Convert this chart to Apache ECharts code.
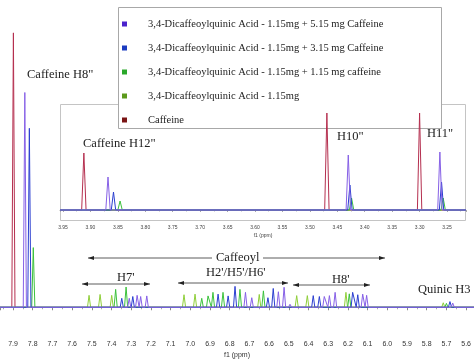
<!DOCTYPE html>
<html>
<head>
<meta charset="utf-8">
<script src="https://cdn.jsdelivr.net/npm/echarts@6/dist/echarts.min.js"></script>
<style>html,body{margin:0;padding:0;background:#fff;}#c{width:474px;height:364px;}</style>
</head>
<body>
<div id="c"></div>
<script>
// ---- Data (ppm, relative intensity) ----
const seriesNames = [
  '3,4-Dicaffeoylquinic Acid - 1.15mg + 5.15 mg Caffeine',
  '3,4-Dicaffeoylquinic Acid - 1.15mg + 3.15 mg Caffeine',
  '3,4-Dicaffeoylquinic Acid - 1.15mg + 1.15 mg caffeine',
  '3,4-Dicaffeoylquinic Acid - 1.15mg',
  'Caffeine'
];
// main spectrum (aromatic region) peaks [ppm, height]
const mainPeaks515 = [[7.840, 72], [7.310, 3], [7.270, 4], [7.252, 3.6], [7.221, 3.8], [6.720, 5], [6.688, 3.2], [6.553, 5.2], [6.524, 6.7], [6.494, 1], [6.320, 3.6], [6.294, 3.9], [6.265, 5], [6.125, 4.4], [6.105, 4], [5.668, 1.4]];
const mainPeaks315 = [[7.817, 60], [7.348, 3], [7.292, 3.6], [6.859, 4.4], [6.808, 3.8], [6.773, 7], [6.606, 3.2], [6.579, 6.3], [6.376, 3.9], [6.345, 3.6], [6.176, 5], [6.150, 4.2], [5.682, 1.9]];
const mainPeaks115 = [[7.797, 20], [7.379, 6], [7.326, 6.8], [6.942, 3], [6.910, 3.8], [6.885, 5], [6.834, 5], [6.748, 6], [6.629, 5.5], [6.193, 4.5], [5.700, 1.3]];
const mainPeaksAcid = [[7.514, 4], [7.458, 4.3], [7.399, 4], [7.032, 4.2], [6.976, 4.4], [6.650, 4.3], [6.460, 3.9], [6.406, 3.9], [6.210, 5], [5.716, 1.5]];
const mainPeaksCaff = [[7.898, 92]];
// inset (aliphatic region) peaks [ppm, height]
const insetPeaks515 = [[3.868, 33], [3.430, 55], [3.263, 58]];
const insetPeaks315 = [[3.858, 18], [3.427, 25], [3.260, 28]];
const insetPeaks115 = [[3.846, 9], [3.424, 12], [3.257, 12]];
const insetPeaksAcid = [];
const insetPeaksCaff = [[3.912, 57], [3.469, 97], [3.300, 97]];

// ---- styles ----
const lineColors = ['#8660e6', '#2b3fd0', '#3cc23c', '#8fce3a', '#b52f4f'];
const legendColors = ['#4a22cc', '#1c3cc0', '#2aa82a', '#5c9a1c', '#7a1414'];
const MAIN_RANGE = [5.56, 7.966];
const INSET_RANGE = [3.2154, 3.9555];

function spikes(peaks, range, hw) {
  const sorted = peaks.slice().sort((a, b) => a[0] - b[0]);
  const pts = [[range[0], 0]];
  sorted.forEach(p => { pts.push([p[0] - hw, 0], [p[0], p[1]], [p[0] + hw, 0]); });
  pts.push([range[1], 0]);
  return pts;
}

const mainSets = [mainPeaks515, mainPeaks315, mainPeaks115, mainPeaksAcid, mainPeaksCaff];
const insetSets = [insetPeaks515, insetPeaks315, insetPeaks115, insetPeaksAcid, insetPeaksCaff];
const drawOrder = [4, 3, 2, 1, 0];

const series = [];
drawOrder.forEach(i => {
  series.push({
    name: seriesNames[i], type: 'line', xAxisIndex: 0, yAxisIndex: 0,
    data: spikes(mainSets[i], MAIN_RANGE, 0.008), showSymbol: false, symbol: 'none',
    lineStyle: { color: lineColors[i], width: 1 }, itemStyle: { color: lineColors[i] }, z: 2
  });
  series.push({
    name: seriesNames[i], type: 'line', xAxisIndex: 1, yAxisIndex: 1,
    data: spikes(insetSets[i], INSET_RANGE, 0.004), showSymbol: false, symbol: 'none',
    lineStyle: { color: lineColors[i], width: 1 }, itemStyle: { color: lineColors[i] }, z: 2
  });
});

const SERIF = '"Liberation Serif", "DejaVu Serif", serif';
const SANS = '"Liberation Sans", Arial, sans-serif';

function txt(text, x, y) {
  return { type: 'text', z: 5, style: { text, x, y, fill: '#222', font: '12.5px ' + SERIF, verticalAlign: 'middle' } };
}
function arrow(x1, x2, y, headL, headR) {
  const els = [{ type: 'line', z: 5, shape: { x1, y1: y, x2, y2: y }, style: { stroke: '#333', lineWidth: 0.8 } }];
  if (headL) els.push({ type: 'polygon', z: 5, shape: { points: [[x1, y], [x1 + 6, y - 2], [x1 + 6, y + 2]] }, style: { fill: '#222' } });
  if (headR) els.push({ type: 'polygon', z: 5, shape: { points: [[x2, y], [x2 - 6, y - 2], [x2 - 6, y + 2]] }, style: { fill: '#222' } });
  return els;
}

const graphics = [
  { type: 'rect', z: 0, shape: { x: 60.5, y: 104.5, width: 405, height: 116 }, style: { fill: 'none', stroke: '#c4c4c4', lineWidth: 1 } },
  { type: 'rect', z: 1, shape: { x: 118.5, y: 7.5, width: 323, height: 121 }, style: { fill: '#fff', stroke: '#a8a8a8', lineWidth: 1 } },
  txt('Caffeine H8"', 27, 75),
  txt('Caffeine H12"', 83, 144),
  txt('H10"', 337, 137),
  txt('H11"', 427, 134),
  txt('Caffeoyl', 216, 258),
  txt("H7'", 117, 278),
  txt("H2'/H5'/H6'", 206, 273),
  txt("H8'", 332, 280),
  txt('Quinic H3', 418, 290)
].concat(
  arrow(88, 212, 258, true, false),
  arrow(263, 385, 258, false, true),
  arrow(82, 150, 284, true, true),
  arrow(178, 288, 283, true, true),
  arrow(293, 370, 285, true, true)
);

const chart = echarts.init(document.getElementById('c'), null, { renderer: 'canvas' });
chart.setOption({
  animation: false,
  backgroundColor: '#fff',
  grid: [
    { left: 0, right: 0, top: 9, bottom: 29 },
    { left: 60, right: 8, top: 110, bottom: 144 }
  ],
  xAxis: [
    {
      type: 'value', gridIndex: 0, inverse: true, min: MAIN_RANGE[0], max: MAIN_RANGE[1],
      minInterval: 0.1, maxInterval: 0.1, splitNumber: 24,
      axisLine: { lineStyle: { color: '#8a8a8a', width: 1 } },
      axisTick: { length: 3, lineStyle: { color: '#8a8a8a' } },
      minorTick: { show: true, splitNumber: 2, length: 2, lineStyle: { color: '#aaa' } },
      splitLine: { show: false },
      axisLabel: { fontFamily: SANS, fontSize: 7, color: '#333', margin: 7, showMinLabel: false, showMaxLabel: false, formatter: v => v.toFixed(1) },
      name: 'f1 (ppm)', nameLocation: 'middle', nameGap: 18,
      nameTextStyle: { fontFamily: SANS, fontSize: 7, color: '#333' }
    },
    {
      type: 'value', gridIndex: 1, inverse: true, min: INSET_RANGE[0], max: INSET_RANGE[1],
      minInterval: 0.05, maxInterval: 0.05, splitNumber: 15,
      axisLine: { lineStyle: { color: '#aaa', width: 1 } },
      axisTick: { length: 2, lineStyle: { color: '#aaa' } },
      minorTick: { show: true, splitNumber: 2, length: 1.5, lineStyle: { color: '#bbb' } },
      splitLine: { show: false },
      axisLabel: { fontFamily: SANS, fontSize: 5, color: '#444', margin: 5, showMinLabel: false, showMaxLabel: false, formatter: v => v.toFixed(2) },
      name: 'f1 (ppm)', nameLocation: 'middle', nameGap: 13,
      nameTextStyle: { fontFamily: SANS, fontSize: 5, color: '#444' }
    }
  ],
  yAxis: [
    { type: 'value', gridIndex: 0, min: -8.667, max: 100, show: false },
    { type: 'value', gridIndex: 1, min: -10, max: 100, show: false }
  ],
  legend: {
    orient: 'vertical', left: 122, top: 18, padding: 0, itemGap: 12,
    icon: 'rect', itemWidth: 5, itemHeight: 5, selectedMode: false,
    data: seriesNames.map((n, i) => ({ name: n, itemStyle: { color: legendColors[i] } })),
    textStyle: { fontFamily: SERIF, fontSize: 10.5, color: '#222', lineHeight: 12, padding: [0, 0, 0, 16] }
  },
  graphic: { elements: graphics },
  series: series
});
</script>
</body>
</html>
